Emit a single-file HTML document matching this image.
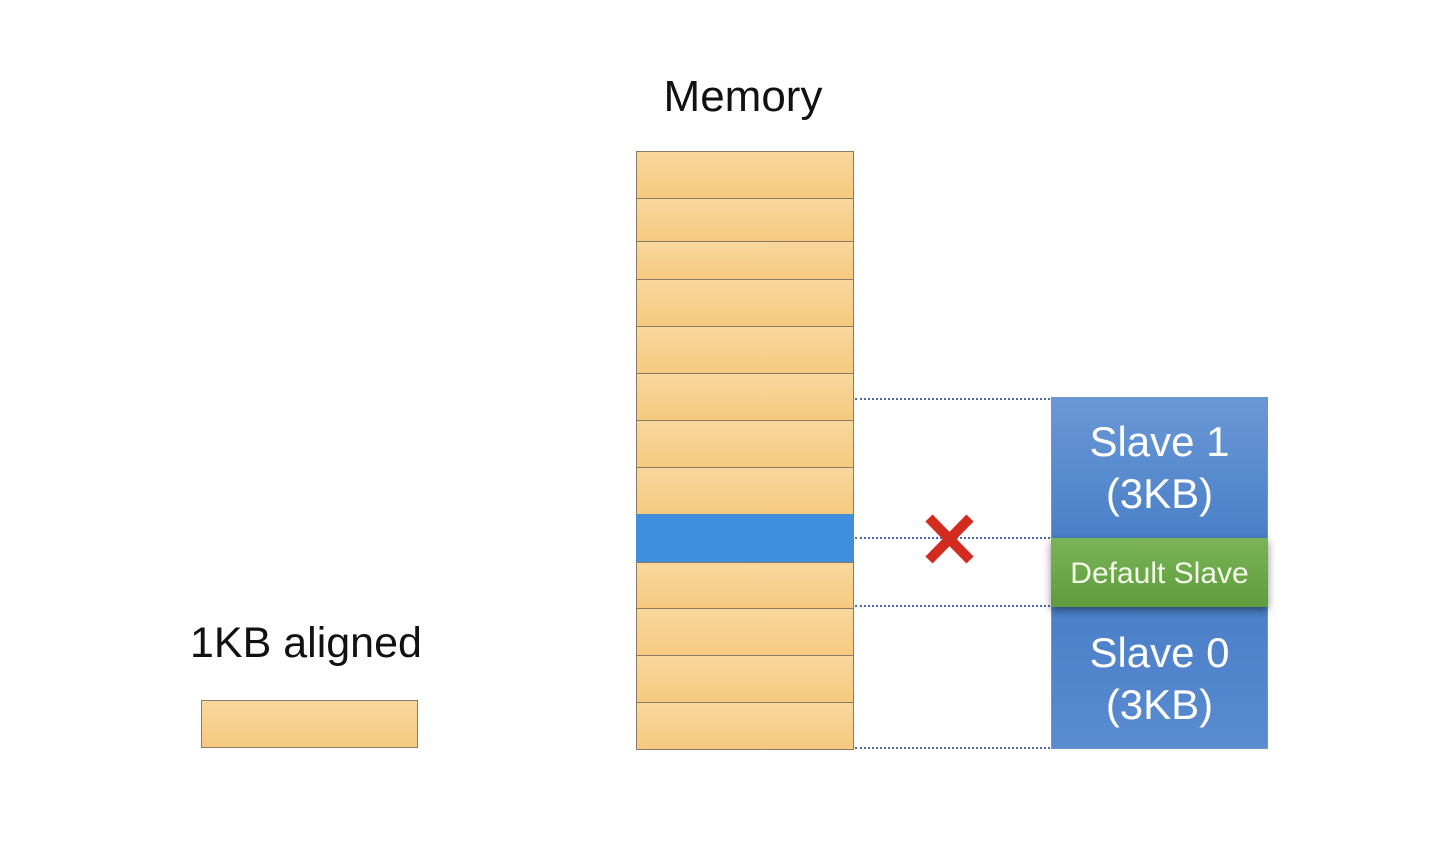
<!DOCTYPE html>
<html><head><meta charset="utf-8"><style>
body{margin:0;width:1438px;height:857px;background:#fff;position:relative;overflow:hidden;font-family:"Liberation Sans",Arial,sans-serif}
.a{position:absolute}
.row{position:absolute;left:636px;width:218px;background:linear-gradient(#f9d79d,#f6c97f);border:1px solid #8a7a66;box-sizing:border-box}
.dot{position:absolute;left:855px;width:195px;border-top:2px dotted #4a6aa8}
.t{position:absolute;color:#fff;text-align:center;width:217px;left:1051px}
</style></head><body>
<div class="a" style="left:643px;width:200px;top:72px;font-size:44px;text-align:center;color:#111">Memory</div>
<div class="row" style="top:151px;height:48px"></div>
<div class="row" style="top:198px;height:44px"></div>
<div class="row" style="top:241px;height:39px"></div>
<div class="row" style="top:279px;height:48px"></div>
<div class="row" style="top:326px;height:48px"></div>
<div class="row" style="top:373px;height:48px"></div>
<div class="row" style="top:420px;height:48px"></div>
<div class="row" style="top:467px;height:48px"></div>
<div class="row" style="top:514px;height:49px;background:#3f8fdc;border-color:#3f8fdc"></div>
<div class="row" style="top:562px;height:47px"></div>
<div class="row" style="top:608px;height:48px"></div>
<div class="row" style="top:655px;height:48px"></div>
<div class="row" style="top:702px;height:48px"></div>
<div class="dot" style="top:398px"></div>
<div class="dot" style="top:537px"></div>
<div class="dot" style="top:605px"></div>
<div class="dot" style="top:747px"></div>
<div class="a" style="left:1051px;top:397px;width:217px;height:352px;background:linear-gradient(#6a98d6,#4a7fc8 40%,#4a7fc8 60%,#5a8bd0);border:1px solid #6d94cc;box-sizing:border-box"></div>
<div class="t" style="top:416px;font-size:42px;line-height:52px">Slave 1<br>(3KB)</div>
<div class="t" style="top:627px;font-size:42px;line-height:52px">Slave 0<br>(3KB)</div>
<div class="a" style="left:1051px;top:538px;width:217px;height:69px;background:linear-gradient(#7ab457,#5f9c3c);box-shadow:0 3px 8px rgba(0,0,0,.45);color:#f4f8ea;font-size:30px;line-height:72px;text-align:center">Default Slave</div>
<svg class="a" style="left:920px;top:510px" width="60" height="58"><path d="M9 8 L50 50 M50 8 L9 50" stroke="#d42b20" stroke-width="10"/></svg>
<div class="a" style="left:190px;top:619px;font-size:43px;color:#111">1KB aligned</div>
<div class="a" style="left:201px;top:700px;width:217px;height:48px;background:linear-gradient(#f9d79d,#f6c97f);border:1px solid #8a7a66;box-sizing:border-box"></div>
</body></html>
